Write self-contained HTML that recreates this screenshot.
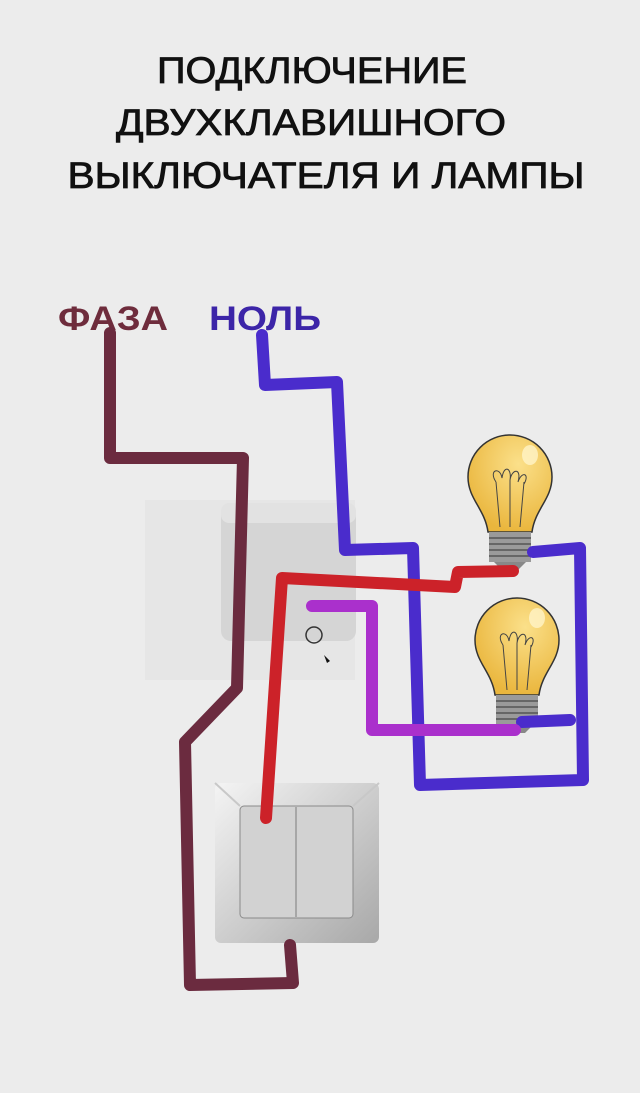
<!DOCTYPE html>
<html><head><meta charset="utf-8"><style>
html,body{margin:0;padding:0;background:#ececec;}
svg{display:block}
</style></head><body>
<svg width="640" height="1093" viewBox="0 0 640 1093" xmlns="http://www.w3.org/2000/svg">
<defs>
<linearGradient id="sw" x1="0" y1="0" x2="1" y2="1"><stop offset="0" stop-color="#f4f4f4"/><stop offset="1" stop-color="#a8a8a8"/></linearGradient>
<radialGradient id="bulb" cx="0.6" cy="0.3" r="0.7"><stop offset="0" stop-color="#fbe08a"/><stop offset="1" stop-color="#eab63d"/></radialGradient>
<g id="b">
<path d="M-42,0 A42,42 0 1 1 42,0 C42,22 25,32 22,55 L-22,55 C-25,32 -42,22 -42,0 Z" fill="url(#bulb)" stroke="#333" stroke-width="1.5"/>
<ellipse cx="20" cy="-22" rx="8" ry="10" fill="#fff4c8" opacity="0.8"/>
<path d="M-10,50 L-14,5 M0,50 L0,3 M10,50 L14,5 M-14,5 c-8,-12 4,-16 6,-4 c2,-14 10,-10 8,2 c2,-12 12,-12 8,2 c4,-12 12,-8 6,2" fill="none" stroke="#444" stroke-width="1"/>
<rect x="-21" y="55" width="42" height="30" fill="#9a9a9a"/>
<path d="M-21,61 H21 M-21,67 H21 M-21,73 H21 M-21,79 H21" stroke="#555" stroke-width="1.5"/>
<path d="M-16,85 L16,85 L8,93 L-8,93 Z" fill="#888"/>
</g>
</defs>
<rect width="640" height="1093" fill="#ececec"/>
<g font-family="Liberation Sans, DejaVu Sans, sans-serif" font-size="37" fill="#111" stroke="#111" stroke-width="0.8" text-anchor="middle">
<text x="312" y="83" textLength="310" lengthAdjust="spacingAndGlyphs">ПОДКЛЮЧЕНИЕ</text>
<text x="311" y="135" textLength="390" lengthAdjust="spacingAndGlyphs">ДВУХКЛАВИШНОГО</text>
<text x="326" y="188" textLength="517" lengthAdjust="spacingAndGlyphs">ВЫКЛЮЧАТЕЛЯ И ЛАМПЫ</text>
</g>
<text x="58" y="330" font-family="Liberation Sans, sans-serif" font-weight="bold" font-size="34" fill="#6e2c3c" textLength="110" lengthAdjust="spacingAndGlyphs">ФАЗА</text>
<text x="209" y="330" font-family="Liberation Sans, sans-serif" font-weight="bold" font-size="34" fill="#3c25a8" textLength="112" lengthAdjust="spacingAndGlyphs">НОЛЬ</text>
<rect x="145" y="500" width="210" height="180" fill="#e6e6e6"/>
<rect x="221" y="503" width="135" height="138" rx="10" fill="#d5d5d5"/>
<rect x="221" y="503" width="135" height="20" rx="8" fill="#e2e2e2"/>
<rect x="215" y="783" width="164" height="160" rx="6" fill="url(#sw)"/>
<path d="M215,783 L240,806 M379,783 L353,806" stroke="#c8c8c8" stroke-width="2"/>
<rect x="240" y="806" width="113" height="112" rx="4" fill="#d2d2d2" stroke="#8a8a8a"/>
<line x1="296" y1="807" x2="296" y2="917" stroke="#999" stroke-width="1.5"/>
<use href="#b" x="510" y="477"/>
<use href="#b" x="517" y="640"/>
<g fill="none" stroke-width="12" stroke-linecap="round" stroke-linejoin="round">
<polyline stroke="#6b2b3f" points="110,333 110,458 243,458 237,688 185,742 190,985 293,983 290,945"/>
<polyline stroke="#4a2ccc" points="262,335 265,385 337,382 345,550 413,548 420,785 583,780 580,548 533,552"/>
<polyline stroke="#4a2ccc" points="522,722 570,720"/>
<polyline stroke="#aa30cc" points="312,606 372,606 372,730 515,730"/>
<polyline stroke="#cc2229" points="266,818 282,578 455,587 458,572 513,571"/>
</g>
<circle cx="314" cy="635" r="8" fill="none" stroke="#333" stroke-width="1.5"/>
<path d="M324,655 l6,6 l-3,2 z" fill="#111"/>
</svg>
</body></html>
